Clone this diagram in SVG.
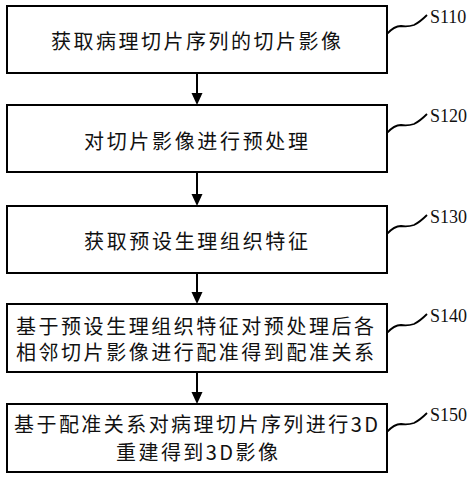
<svg xmlns="http://www.w3.org/2000/svg" xmlns:xlink="http://www.w3.org/1999/xlink" width="474" height="477" viewBox="0 0 474 477">
<defs>
<style>
.box{fill:#fff;stroke:#000;stroke-width:2}
.t{font-family:"Noto Sans CJK SC","Noto Sans",sans-serif;font-size:20px;fill:#111;text-anchor:middle}
.lbl{font-family:"Liberation Serif",serif;font-size:18px;fill:#111}
.sq{fill:none;stroke:#000;stroke-width:1.8}
.conn{stroke:#000;stroke-width:2;fill:none}
.head{fill:#000}
</style>
<path id="squig" class="sq" d="M0,0 Q7,-8 14,-8 Q21,-7 27,-9 Q33,-12 40,-19"/>
</defs>
<rect width="474" height="477" fill="#fff"/>
<g id="connectors">
<path class="conn" d="M197,73 V95"/>
<path class="head" d="M191.5,93 H202.5 L197,105 Z"/>
<path class="conn" d="M197,172 V196"/>
<path class="head" d="M191.5,194 H202.5 L197,206 Z"/>
<path class="conn" d="M197,273 V294"/>
<path class="head" d="M191.5,292 H202.5 L197,304 Z"/>
<path class="conn" d="M197,372 V394"/>
<path class="head" d="M191.5,392 H202.5 L197,404 Z"/>
</g>
<g id="s110">
<rect class="box" x="7" y="6" width="380" height="67"/>
<text class="t" x="196" y="49" textLength="290" lengthAdjust="spacing">获取病理切片序列的切片影像</text>
<use xlink:href="#squig" x="387" y="34"/>
<text class="lbl" x="430" y="23">S110</text>
</g>
<g id="s120">
<rect class="box" x="7" y="105" width="380" height="67"/>
<text class="t" x="196" y="149" textLength="224" lengthAdjust="spacing">对切片影像进行预处理</text>
<use xlink:href="#squig" x="387" y="133"/>
<text class="lbl" x="430" y="122">S120</text>
</g>
<g id="s130">
<rect class="box" x="7" y="206" width="380" height="67"/>
<text class="t" x="196" y="249" textLength="224" lengthAdjust="spacing">获取预设生理组织特征</text>
<use xlink:href="#squig" x="387" y="234"/>
<text class="lbl" x="430" y="223">S130</text>
</g>
<g id="s140">
<rect class="box" x="7" y="304" width="380" height="68"/>
<text class="t"><tspan x="195" y="334" textLength="358" lengthAdjust="spacing">基于预设生理组织特征对预处理后各</tspan><tspan x="195" y="360" textLength="358" lengthAdjust="spacing">相邻切片影像进行配准得到配准关系</tspan></text>
<use xlink:href="#squig" x="387" y="333"/>
<text class="lbl" x="430" y="322">S140</text>
</g>
<g id="s150">
<rect class="box" x="7" y="404" width="380" height="68"/>
<text class="t"><tspan x="196" y="432" textLength="364" lengthAdjust="spacing">基于配准关系对病理切片序列进行3D</tspan><tspan x="197" y="460" textLength="162" lengthAdjust="spacing">重建得到3D影像</tspan></text>
<use xlink:href="#squig" x="387" y="432"/>
<text class="lbl" x="430" y="421">S150</text>
</g>
</svg>
